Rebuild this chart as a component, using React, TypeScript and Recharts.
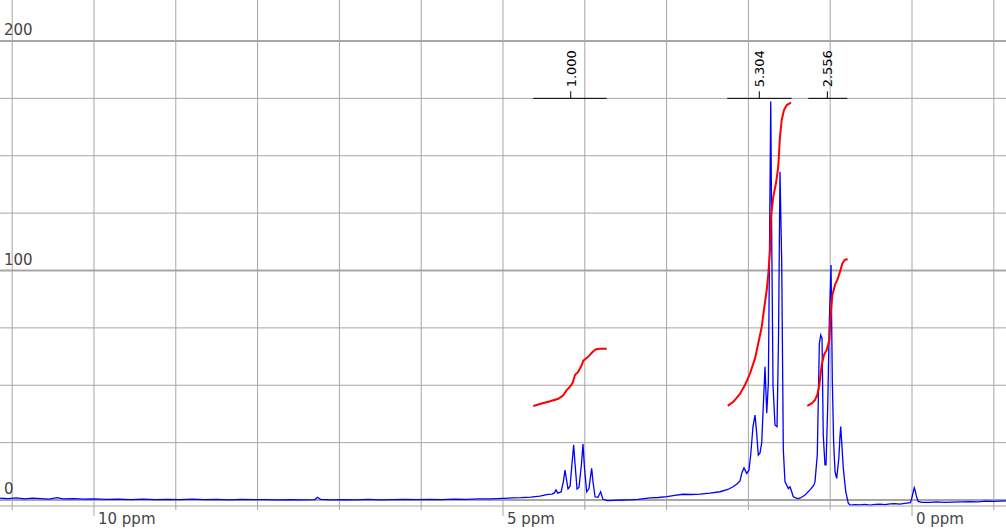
import React from "react";
import {
    ComposedChart,
    Line,
    XAxis,
    YAxis,
    CartesianGrid,
    ReferenceLine,
    ReferenceDot,
} from "recharts";

// chemical shift (ppm) / intensity pairs
const baselineLeft: [number, number][] = [
    [11.15, 0.8], [11.05, 0.6], [10.95, 0.9], [10.85, 0.5], [10.75, 0.8], [10.65, 0.6],
    [10.55, 0.4], [10.45, 1.0], [10.38, 0.5], [10.25, 0.6], [10.12, 0.4], [10.0, 0.5],
    [9.85, 0.3], [9.7, 0.4], [9.55, 0.2], [9.4, 0.4], [9.25, 0.2], [9.1, 0.3],
    [8.95, 0.2], [8.8, 0.4], [8.65, 0.2], [8.5, 0.3], [8.35, 0.1], [8.2, 0.3],
    [8.05, 0.2], [7.9, 0.2], [7.75, 0.1], [7.6, 0.2], [7.45, 0.1], [7.3, 0.2],
    [7.27, 1.2], [7.23, 0.3], [7.1, 0.1], [6.95, 0.2], [6.8, 0.1], [6.65, 0.3],
    [6.5, 0.1], [6.35, 0.2], [6.2, 0.3], [6.05, 0.2], [5.9, 0.3], [5.75, 0.2],
    [5.6, 0.4], [5.45, 0.3], [5.3, 0.5], [5.15, 0.5], [5.0, 0.7], [4.88, 0.9],
    [4.78, 1.0], [4.66, 1.3], [4.55, 1.7], [4.45, 2.5],
];

const multipletA: [number, number][] = [
    [4.4, 2.6], [4.37, 3.2], [4.352, 4.4], [4.33, 3.0], [4.29, 3.5], [4.262, 8],
    [4.242, 13], [4.224, 9], [4.205, 4.8], [4.18, 6], [4.156, 16], [4.136, 24],
    [4.12, 16], [4.095, 4.8], [4.071, 5.5], [4.04, 16], [4.022, 24.4], [4.004, 14],
    [3.977, 3.6], [3.949, 5], [3.931, 10], [3.916, 13.8], [3.9, 8], [3.875, 1.4],
    [3.84, 1.2], [3.806, 3.6], [3.778, 0.3], [3.72, -0.3], [3.65, -0.2], [3.55, 0.0],
    [3.45, 0.1], [3.35, 0.3], [3.2, 0.9], [3.1, 1.1], [2.995, 1.5], [2.9, 2.0],
    [2.8, 2.5], [2.7, 2.4], [2.592, 2.6], [2.47, 3.0], [2.347, 3.6], [2.25, 4.6],
    [2.188, 5.8], [2.14, 7.0],
];

const multipletB: [number, number][] = [
    [2.103, 8.3], [2.078, 12], [2.054, 14], [2.021, 11.6], [1.993, 13], [1.972, 19.6],
    [1.944, 32], [1.919, 37], [1.901, 30], [1.879, 19.6], [1.858, 20.5], [1.837, 25],
    [1.818, 41], [1.797, 58], [1.776, 37.8], [1.756, 51], [1.742, 110], [1.727, 173.6],
    [1.714, 110], [1.699, 50], [1.675, 32.7], [1.65, 32], [1.632, 70], [1.614, 143],
    [1.593, 104], [1.573, 21.8], [1.553, 8], [1.512, 5], [1.491, 5.8], [1.451, 1.4],
    [1.4, 0.6], [1.369, 0.8],
];

const multipletC: [number, number][] = [
    [1.308, 2.2], [1.247, 4.4], [1.2, 6.5], [1.186, 8], [1.158, 19.6], [1.145, 45],
    [1.133, 68], [1.116, 71.9], [1.1, 70.4], [1.085, 28.3], [1.064, 15.3], [1.051, 15.3],
    [1.03, 41.4], [1.011, 77.7], [0.99, 102.4], [0.974, 51.5], [0.958, 25], [0.941, 12.3],
    [0.921, 9.4], [0.895, 18], [0.88, 28], [0.872, 32], [0.859, 25], [0.84, 13.8],
    [0.81, 3.6], [0.779, -1.4], [0.758, -2.2],
];

const baselineRight: [number, number][] = [
    [0.7, -2.0], [0.636, -2.1], [0.58, -1.9], [0.513, -2.2], [0.45, -1.9], [0.391, -1.8],
    [0.33, -2.0], [0.27, -1.7], [0.208, -1.6], [0.15, -1.8], [0.086, -1.5], [0.02, -1.2],
    [0.005, 0.5], [-0.015, 3.5], [-0.028, 5.4], [-0.04, 4.0], [-0.055, 1.5], [-0.075, -0.6],
    [-0.12, -1.0], [-0.22, -1.0], [-0.3, -0.8], [-0.4, -1.0], [-0.5, -0.9], [-0.6, -0.8],
    [-0.709, -0.7], [-0.8, -0.8], [-0.9, -0.5], [-1.0, -0.6], [-1.149, -0.4],
];

// integral curves (red)
const integralA: [number, number][] = [
    [4.63, 41.0], [4.548, 41.8], [4.425, 43.0], [4.324, 44.1], [4.263, 45.6], [4.221, 47.9],
    [4.181, 49.4], [4.148, 51.1], [4.12, 54.5], [4.079, 55.9], [4.038, 58.8], [4.018, 60.7],
    [3.985, 61.7], [3.945, 62.9], [3.903, 64.6], [3.863, 65.7], [3.814, 65.9], [3.732, 65.9],
];

const integralB: [number, number][] = [
    [2.253, 41.0], [2.185, 42.8], [2.103, 46.2], [2.042, 50.1], [1.98, 55.2], [1.919, 61.7],
    [1.879, 68.3], [1.837, 75.5], [1.805, 84.2], [1.776, 91.5], [1.756, 98.8], [1.736, 108.9],
    [1.724, 123.4], [1.696, 132.2], [1.663, 138], [1.635, 145.2], [1.614, 158.3], [1.593, 165.6],
    [1.565, 169.9], [1.532, 172.1], [1.479, 173.1],
];

const integralC: [number, number][] = [
    [1.28, 41.0], [1.226, 42.1], [1.186, 43.6], [1.158, 45.8], [1.133, 50.1], [1.104, 58.8],
    [1.076, 63.2], [1.043, 65.4], [1.011, 69.7], [0.994, 80.6], [0.974, 89.3], [0.941, 93.7],
    [0.908, 96.3], [0.88, 99.5], [0.852, 103.1], [0.819, 104.7], [0.786, 104.9],
];

// integration brackets: [from ppm, to ppm, label ppm]
const integrationRanges: [number, number, number][] = [
    [4.63, 3.732, 4.172],
    [2.258, 1.471, 1.867],
    [1.268, 0.791, 1.035],
];
const integrationLabels = ["1.000", "5.304", "2.556"];

const ppmTicks = [-1, 0, 1, 2, 3, 4, 5, 6, 7, 8, 9, 10, 11];
const ppmLabelled = [0, 5, 10];
const intensityGrid = [25, 50, 75, 125, 150, 175];
const intensityMajor = [0, 100, 200];

const toPoints = (rows: [number, number][]) =>
    rows.map(([ppm, intensity]) => ({ ppm, intensity }));

const spectrum = toPoints([
    ...baselineLeft,
    ...multipletA,
    ...multipletB,
    ...multipletC,
    ...baselineRight,
]);
const integrals = [integralA, integralB, integralC].map(toPoints);

const WIDTH = 1006;
const HEIGHT = 529;
const PLOT_BOTTOM = 506;
const BRACKET_LEVEL = 175;
const GRID = "#a6a6a6";
const TEXT = "#444444";
const FONT = "DejaVu Sans";

const PpmTick = (props: any) => {
    const { x, payload } = props;
    const major = ppmLabelled.includes(payload.value);
    return (
        <g>
            <line x1={x} x2={x} y1={PLOT_BOTTOM} y2={major ? 516 : 510} stroke={GRID} strokeWidth={1} />
            {major && (
                <text x={x + 4} y={524} fill={TEXT} fontSize={15} fontFamily={FONT} textAnchor="start">
                    {`${payload.value} ppm`}
                </text>
            )}
        </g>
    );
};

const MajorLabel = (props: any) => {
    const { viewBox, value } = props;
    if (!viewBox) return null;
    return (
        <text x={4} y={viewBox.y - 6} fill={TEXT} fontSize={15} fontFamily={FONT} textAnchor="start">
            {value}
        </text>
    );
};

const integralMark = (label: string) => (props: any) => {
    const { cx, cy } = props;
    return (
        <g>
            <line x1={cx} x2={cx} y1={cy} y2={cy - 7} stroke="#000" strokeWidth={1} />
            <text
                transform={`translate(${cx + 5}, ${cy - 11}) rotate(-90)`}
                fontSize={13}
                fontFamily={FONT}
                fill="#000"
                textAnchor="start"
            >
                {label}
            </text>
        </g>
    );
};

export default function App() {
    return (
        <div style={{ position: "absolute", left: 0, top: 0, width: WIDTH, height: HEIGHT, background: "#fff" }}>
            <ComposedChart
                width={WIDTH}
                height={HEIGHT}
                margin={{ top: 0, right: 0, bottom: 0, left: 0 }}
            >
                <CartesianGrid
                    stroke={GRID}
                    strokeWidth={1}
                    horizontalValues={intensityGrid}
                    verticalValues={ppmTicks}
                />

                <XAxis
                    type="number"
                    dataKey="ppm"
                    domain={[-1.149, 11.149]}
                    reversed
                    allowDataOverflow
                    ticks={ppmTicks}
                    interval={0}
                    height={23}
                    axisLine={{ stroke: GRID }}
                    tickLine={false}
                    tick={<PpmTick />}
                />
                <YAxis
                    type="number"
                    domain={[-2.61, 217.86]}
                    allowDataOverflow
                    ticks={intensityMajor}
                    width={0}
                    hide
                />

                {intensityMajor.map((v) => (
                    <ReferenceLine
                        key={`major-${v}`}
                        y={v}
                        stroke={GRID}
                        strokeWidth={2}
                        label={<MajorLabel value={v} />}
                    />
                ))}

                {integrationRanges.map(([from, to], i) => (
                    <ReferenceLine
                        key={`bracket-${i}`}
                        segment={[
                            { x: from, y: BRACKET_LEVEL },
                            { x: to, y: BRACKET_LEVEL },
                        ]}
                        stroke="#000"
                        strokeWidth={1}
                    />
                ))}
                {integrationRanges.map(([, , at], i) => (
                    <ReferenceDot
                        key={`label-${i}`}
                        x={at}
                        y={BRACKET_LEVEL}
                        r={0}
                        shape={integralMark(integrationLabels[i])}
                    />
                ))}

                <Line
                    data={spectrum}
                    dataKey="intensity"
                    type="linear"
                    stroke="#0000ff"
                    strokeWidth={1.3}
                    dot={false}
                    isAnimationActive={false}
                />
                {integrals.map((pts, i) => (
                    <Line
                        key={`integral-${i}`}
                        data={pts}
                        dataKey="intensity"
                        type="linear"
                        stroke="#ff0000"
                        strokeWidth={2}
                        dot={false}
                        isAnimationActive={false}
                    />
                ))}
            </ComposedChart>
        </div>
    );
}
